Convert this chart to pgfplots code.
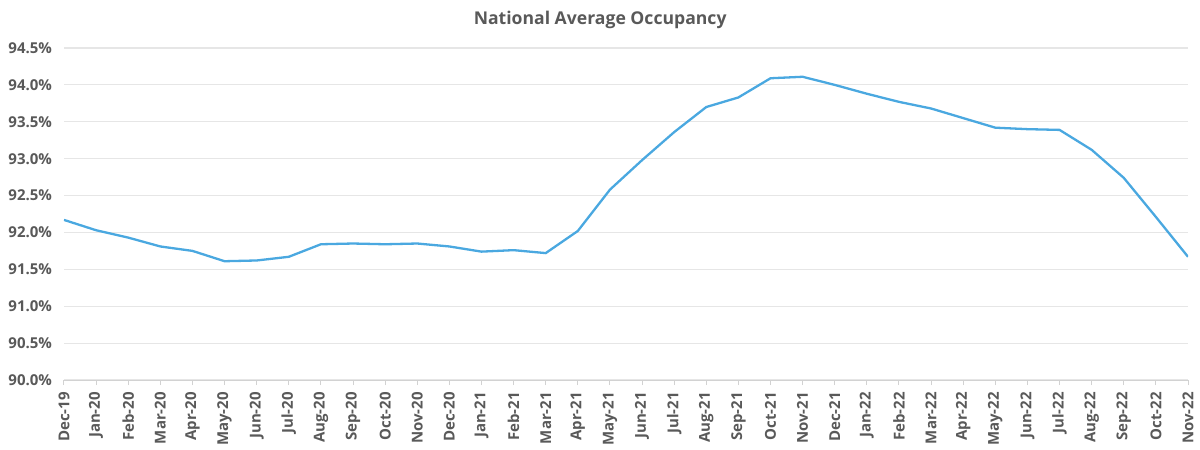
\documentclass[border=0pt]{standalone}
\usepackage{fontspec}
\setmainfont{Open Sans}
\usepackage{pgfplots}
\pgfplotsset{compat=1.18}
\definecolor{occline}{RGB}{74,168,224}
\definecolor{txtgray}{RGB}{89,89,89}
\definecolor{gridgray}{RGB}{230,230,230}
\definecolor{axgray}{RGB}{210,210,210}
\begin{document}
\begin{tikzpicture}
\useasboundingbox (-32pt,-35pt) rectangle (568pt,190pt);
\begin{axis}[
    scale only axis,
    width=562pt, height=166pt,
    xmin=0, xmax=35,
    ymin=90, ymax=94.5,
    ytick={90,90.5,...,94.5},
    xtick={0,...,35},
    xticklabels={Dec-19,Jan-20,Feb-20,Mar-20,Apr-20,May-20,Jun-20,Jul-20,Aug-20,Sep-20,Oct-20,Nov-20,Dec-20,
                 Jan-21,Feb-21,Mar-21,Apr-21,May-21,Jun-21,Jul-21,Aug-21,Sep-21,Oct-21,Nov-21,Dec-21,
                 Jan-22,Feb-22,Mar-22,Apr-22,May-22,Jun-22,Jul-22,Aug-22,Sep-22,Oct-22,Nov-22},
    yticklabel={\pgfmathprintnumber[fixed,fixed zerofill,precision=1]{\tick}\%},
    /pgf/number format/assume math mode=true,
    axis x line*=bottom,
    axis y line*=left,
    x axis line style={draw=axgray, -},
    y axis line style={draw=none},
    ymajorgrids,
    grid style={gridgray, line width=0.6pt},
    tick align=outside,
    xtick style={axgray, line width=0.5pt},
    major tick length=2.5pt,
    ytick style={draw=none},
    ticklabel style={font=\fontsize{7.5}{9}\selectfont\bfseries, text=txtgray},
    xticklabel style={rotate=90, anchor=east},
    title={National Average Occupancy},
    title style={at={(0.477,1.084)}, anchor=center, yshift=0pt,
                 font=\fontsize{8.8}{10}\selectfont\bfseries, text=txtgray},
    every axis title shift=0pt,
]
\addplot[occline, line width=1.15pt] coordinates {
 (0,92.17) (1,92.03) (2,91.93) (3,91.81) (4,91.75) (5,91.61) (6,91.62) (7,91.67)
 (8,91.84) (9,91.85) (10,91.84) (11,91.85) (12,91.81) (13,91.74) (14,91.76) (15,91.72)
 (16,92.02) (17,92.58) (18,92.98) (19,93.36) (20,93.70) (21,93.83) (22,94.09) (23,94.11)
 (24,94.00) (25,93.88) (26,93.77) (27,93.68) (28,93.55) (29,93.42) (30,93.40) (31,93.39)
 (32,93.12) (33,92.74) (34,92.21) (35,91.67)
};
\end{axis}
\end{tikzpicture}
\end{document}
